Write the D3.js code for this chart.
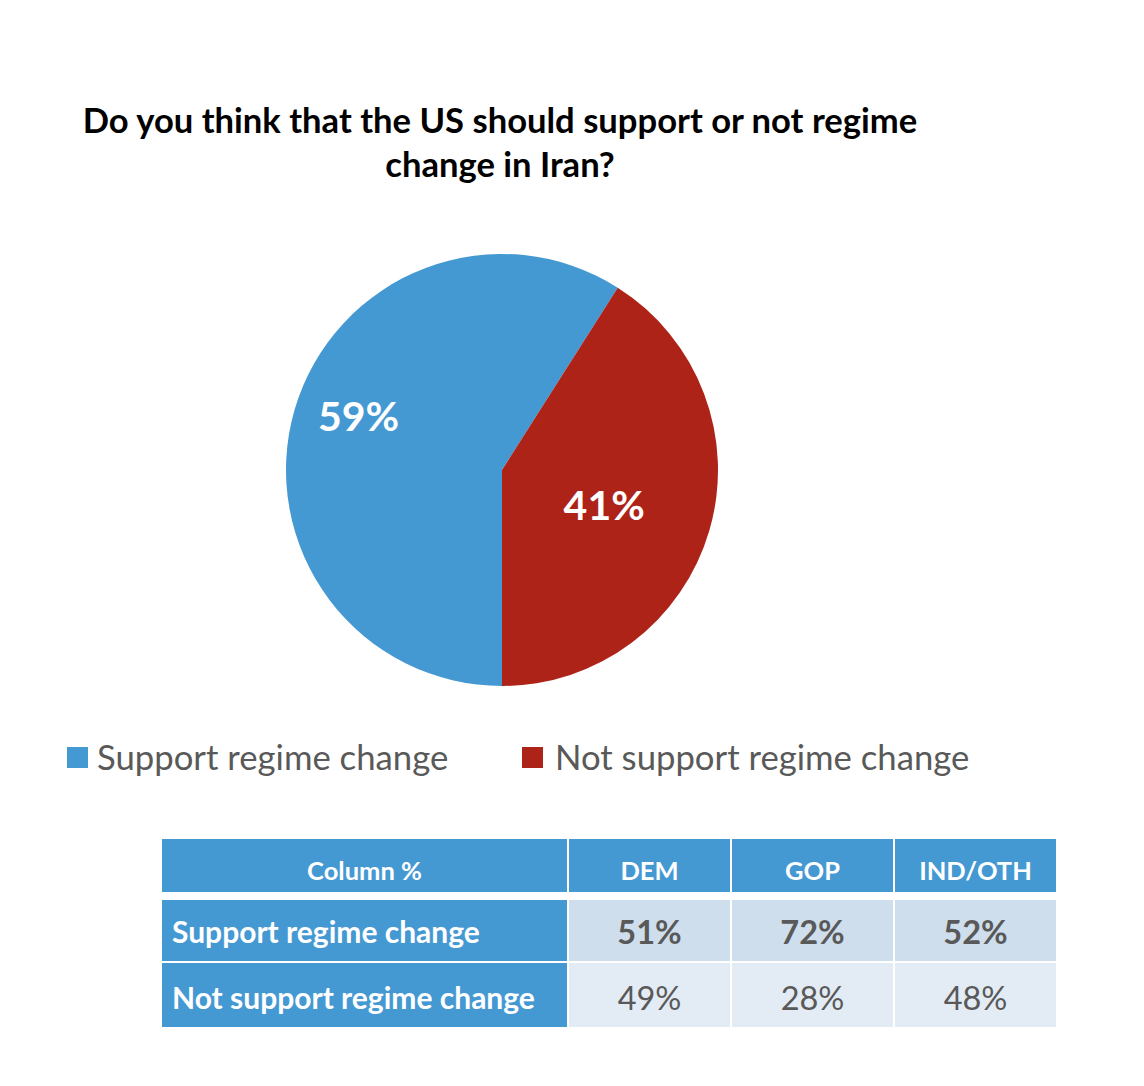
<!DOCTYPE html>
<html>
<head>
<meta charset="utf-8">
<script src="https://cdn.jsdelivr.net/npm/d3@7"></script>
<style>
  body { margin: 0; background: #fff; }
  text { font-family: Lato, "Open Sans", sans-serif; }
</style>
</head>
<body>
<div id="chart"></div>
<script>
// data
const titleLines = ["Do you think that the US should support or not regime", "change in Iran?"];
const answers = ["Support regime change", "Not support regime change"];
const totals = [59, 41];
const parties = ["DEM", "GOP", "IND/OTH"];
const supportByParty = [51, 72, 52];
const notSupportByParty = [49, 28, 48];

const W = 1144, H = 1086;
const colors = d3.scaleOrdinal().domain(answers).range(["#4599d3", "#ae2318"]);

const svg = d3.select('#chart').append('svg')
  .attr('width', W)
  .attr('height', H);

// title
svg.append('g').selectAll('text')
  .data(titleLines)
  .join('text')
  .attr('x', 500)
  .attr('y', (d, i) => 133 + i * 44)
  .attr('text-anchor', 'middle')
  .attr('font-size', 34.6)
  .attr('font-weight', 700)
  .attr('fill', '#000')
  .text(d => d);

// pie
let radius = 216;
let cx = 502, cy = 470;
let pie = d3.pie().sort(null).startAngle(Math.PI).endAngle(3 * Math.PI);
let arcs = pie(totals);
let arc = d3.arc().innerRadius(0).outerRadius(radius);
// label placement, excel style: share of radius + small angle nudge
let labelR = [0.71, 0.50];
let labelNudge = [0.077, 0.047];

let pieG = svg.append('g').attr('transform', "translate(" + cx + "," + cy + ")");
pieG.selectAll('path')
  .data(arcs)
  .join('path')
  .attr('d', arc)
  .attr('fill', (d, i) => colors(answers[i]));

pieG.selectAll('text')
  .data(arcs)
  .join('text')
  .attr('transform', (d, i) => {
    let a = (d.startAngle + d.endAngle) / 2 + labelNudge[i];
    let r = radius * labelR[i];
    return "translate(" + (r * Math.sin(a)) + "," + (-r * Math.cos(a)) + ")";
  })
  .attr('dy', '0.36em')
  .attr('text-anchor', 'middle')
  .attr('font-size', 41)
  .attr('font-weight', 700)
  .attr('fill', '#fff')
  .text(d => d.data + '%');

// legend
let legendX = [67, 522];
let legend = svg.append('g').selectAll('g')
  .data(answers)
  .join('g')
  .attr('transform', (d, i) => "translate(" + legendX[i] + ",747)");
legend.append('rect')
  .attr('width', 21).attr('height', 21)
  .attr('fill', d => colors(d));
legend.append('text')
  .attr('x', (d, i) => i ? 33 : 30).attr('y', 23)
  .attr('font-size', 34.7)
  .attr('fill', '#595959')
  .text(d => d);

// table
let firstW = 407, otherW = (1058 - 162 - firstW) / 3;
let xLeft = c => c === "label" ? 162 : 162 + firstW + parties.indexOf(c) * otherW;
let wCol = c => c === "label" ? firstW - 2 : otherW - 2;

let rows = [
  { label: "Column %", vals: parties, y: 839, h: 53, kind: "head" },
  { label: answers[0], vals: supportByParty.map(v => v + '%'), y: 900, h: 61, kind: "r1" },
  { label: answers[1], vals: notSupportByParty.map(v => v + '%'), y: 963, h: 64, kind: "r2" }
];
let fillFor = { head: "#4599d3", r1: "#cedeed", r2: "#e3ecf5" };
let textShift = { head: 5, r1: 2, r2: 3 };

let tbl = svg.append('g');
rows.forEach(r => {
  let cells = [{ c: "label", t: r.label }].concat(parties.map((p, i) => ({ c: p, t: r.vals[i] })));
  let g = tbl.append('g');
  g.selectAll('rect')
    .data(cells)
    .join('rect')
    .attr('x', d => xLeft(d.c))
    .attr('y', r.y)
    .attr('width', d => wCol(d.c))
    .attr('height', r.h)
    .attr('fill', d => (d.c === "label" || r.kind === "head") ? "#4599d3" : fillFor[r.kind]);
  g.selectAll('text')
    .data(cells)
    .join('text')
    .attr('x', d => (d.c === "label" && r.kind !== "head") ? 172 : xLeft(d.c) + wCol(d.c) / 2)
    .attr('y', r.y + r.h / 2 + textShift[r.kind])
    .attr('dy', '0.36em')
    .attr('text-anchor', d => (d.c === "label" && r.kind !== "head") ? 'start' : 'middle')
    .attr('font-size', d => r.kind === "head" ? 25.5 : (d.c === "label" ? 30 : 32.5))
    .attr('font-weight', d => (r.kind === "r2" && d.c !== "label") ? 400 : 700)
    .attr('fill', d => (d.c === "label" || r.kind === "head") ? '#fff' : '#595959')
    .text(d => d.t);
});
</script>
</body>
</html>
